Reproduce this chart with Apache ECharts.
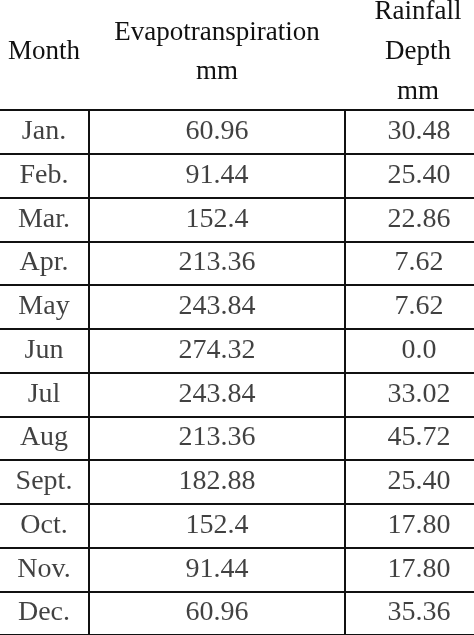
<!DOCTYPE html>
<html><head><meta charset="utf-8">
<script src="https://cdn.jsdelivr.net/npm/echarts@6/dist/echarts.min.js"></script>
<style>html,body{margin:0;padding:0;background:#fff}#c{width:474px;height:635px}</style>
</head><body><div id="c"></div>
<script>
const months = ['Jan.','Feb.','Mar.','Apr.','May','Jun','Jul','Aug','Sept.','Oct.','Nov.','Dec.'];
const evapotranspiration = ['60.96','91.44','152.4','213.36','243.84','274.32','243.84','213.36','182.88','152.4','91.44','60.96'];
const rainfall = ['30.48','25.40','22.86','7.62','7.62','0.0','33.02','45.72','25.40','17.80','17.80','35.36'];
const headers = ['Month','Evapotranspiration\nmm','Rainfall\nDepth\nmm'];

const FONT = '"Liberation Serif", "DejaVu Serif", serif';
const colX = [44, 217, 419];
const lineStyle = {color:'#111', width:2};
function textSeries(name, x, strs){
  return {
    type:'scatter', name, symbolSize:0,
    data: strs.map((s,i)=>[x, months[i]]),
    label:{show:true, position:'inside', formatter:p=>strs[p.dataIndex],
      fontFamily:FONT, fontSize:28, color:'#111'},
    silent:true
  };
}
function head(text, x, y, lh){
  return {type:'text',style:{text, x, y, textAlign:'center', textVerticalAlign:'top',
    fontFamily:FONT, fontSize:27, fill:'#111', lineHeight:lh}};
}
const chart = echarts.init(document.getElementById('c'));
chart.setOption({
  animation:false,
  grid:{left:0,right:0,top:110,bottom:-4},
  xAxis:{type:'value',min:0,max:474,position:'top',
    axisLine:{show:true,onZero:false,lineStyle},axisTick:{show:false},axisLabel:{show:false},splitLine:{show:false}},
  yAxis:{type:'category',data:months,inverse:true,
    axisLine:{show:false},axisTick:{show:false},axisLabel:{show:false},
    splitLine:{show:true,lineStyle}},
  graphic:[
    head(headers[0], 44, 32, 40),
    head(headers[1], 217, 13, 39),
    head(headers[2], 418, -8, 40)
  ],
  series:[
    Object.assign(textSeries('Month', colX[0], months),{
      markLine:{symbol:'none',silent:true,label:{show:false},lineStyle:{color:'#111',width:2,type:'solid'},
        data:[{xAxis:89},{xAxis:345}]}
    }),
    textSeries('Evapotranspiration', colX[1], evapotranspiration),
    textSeries('Rainfall', colX[2], rainfall)
  ]
});
</script></body></html>
